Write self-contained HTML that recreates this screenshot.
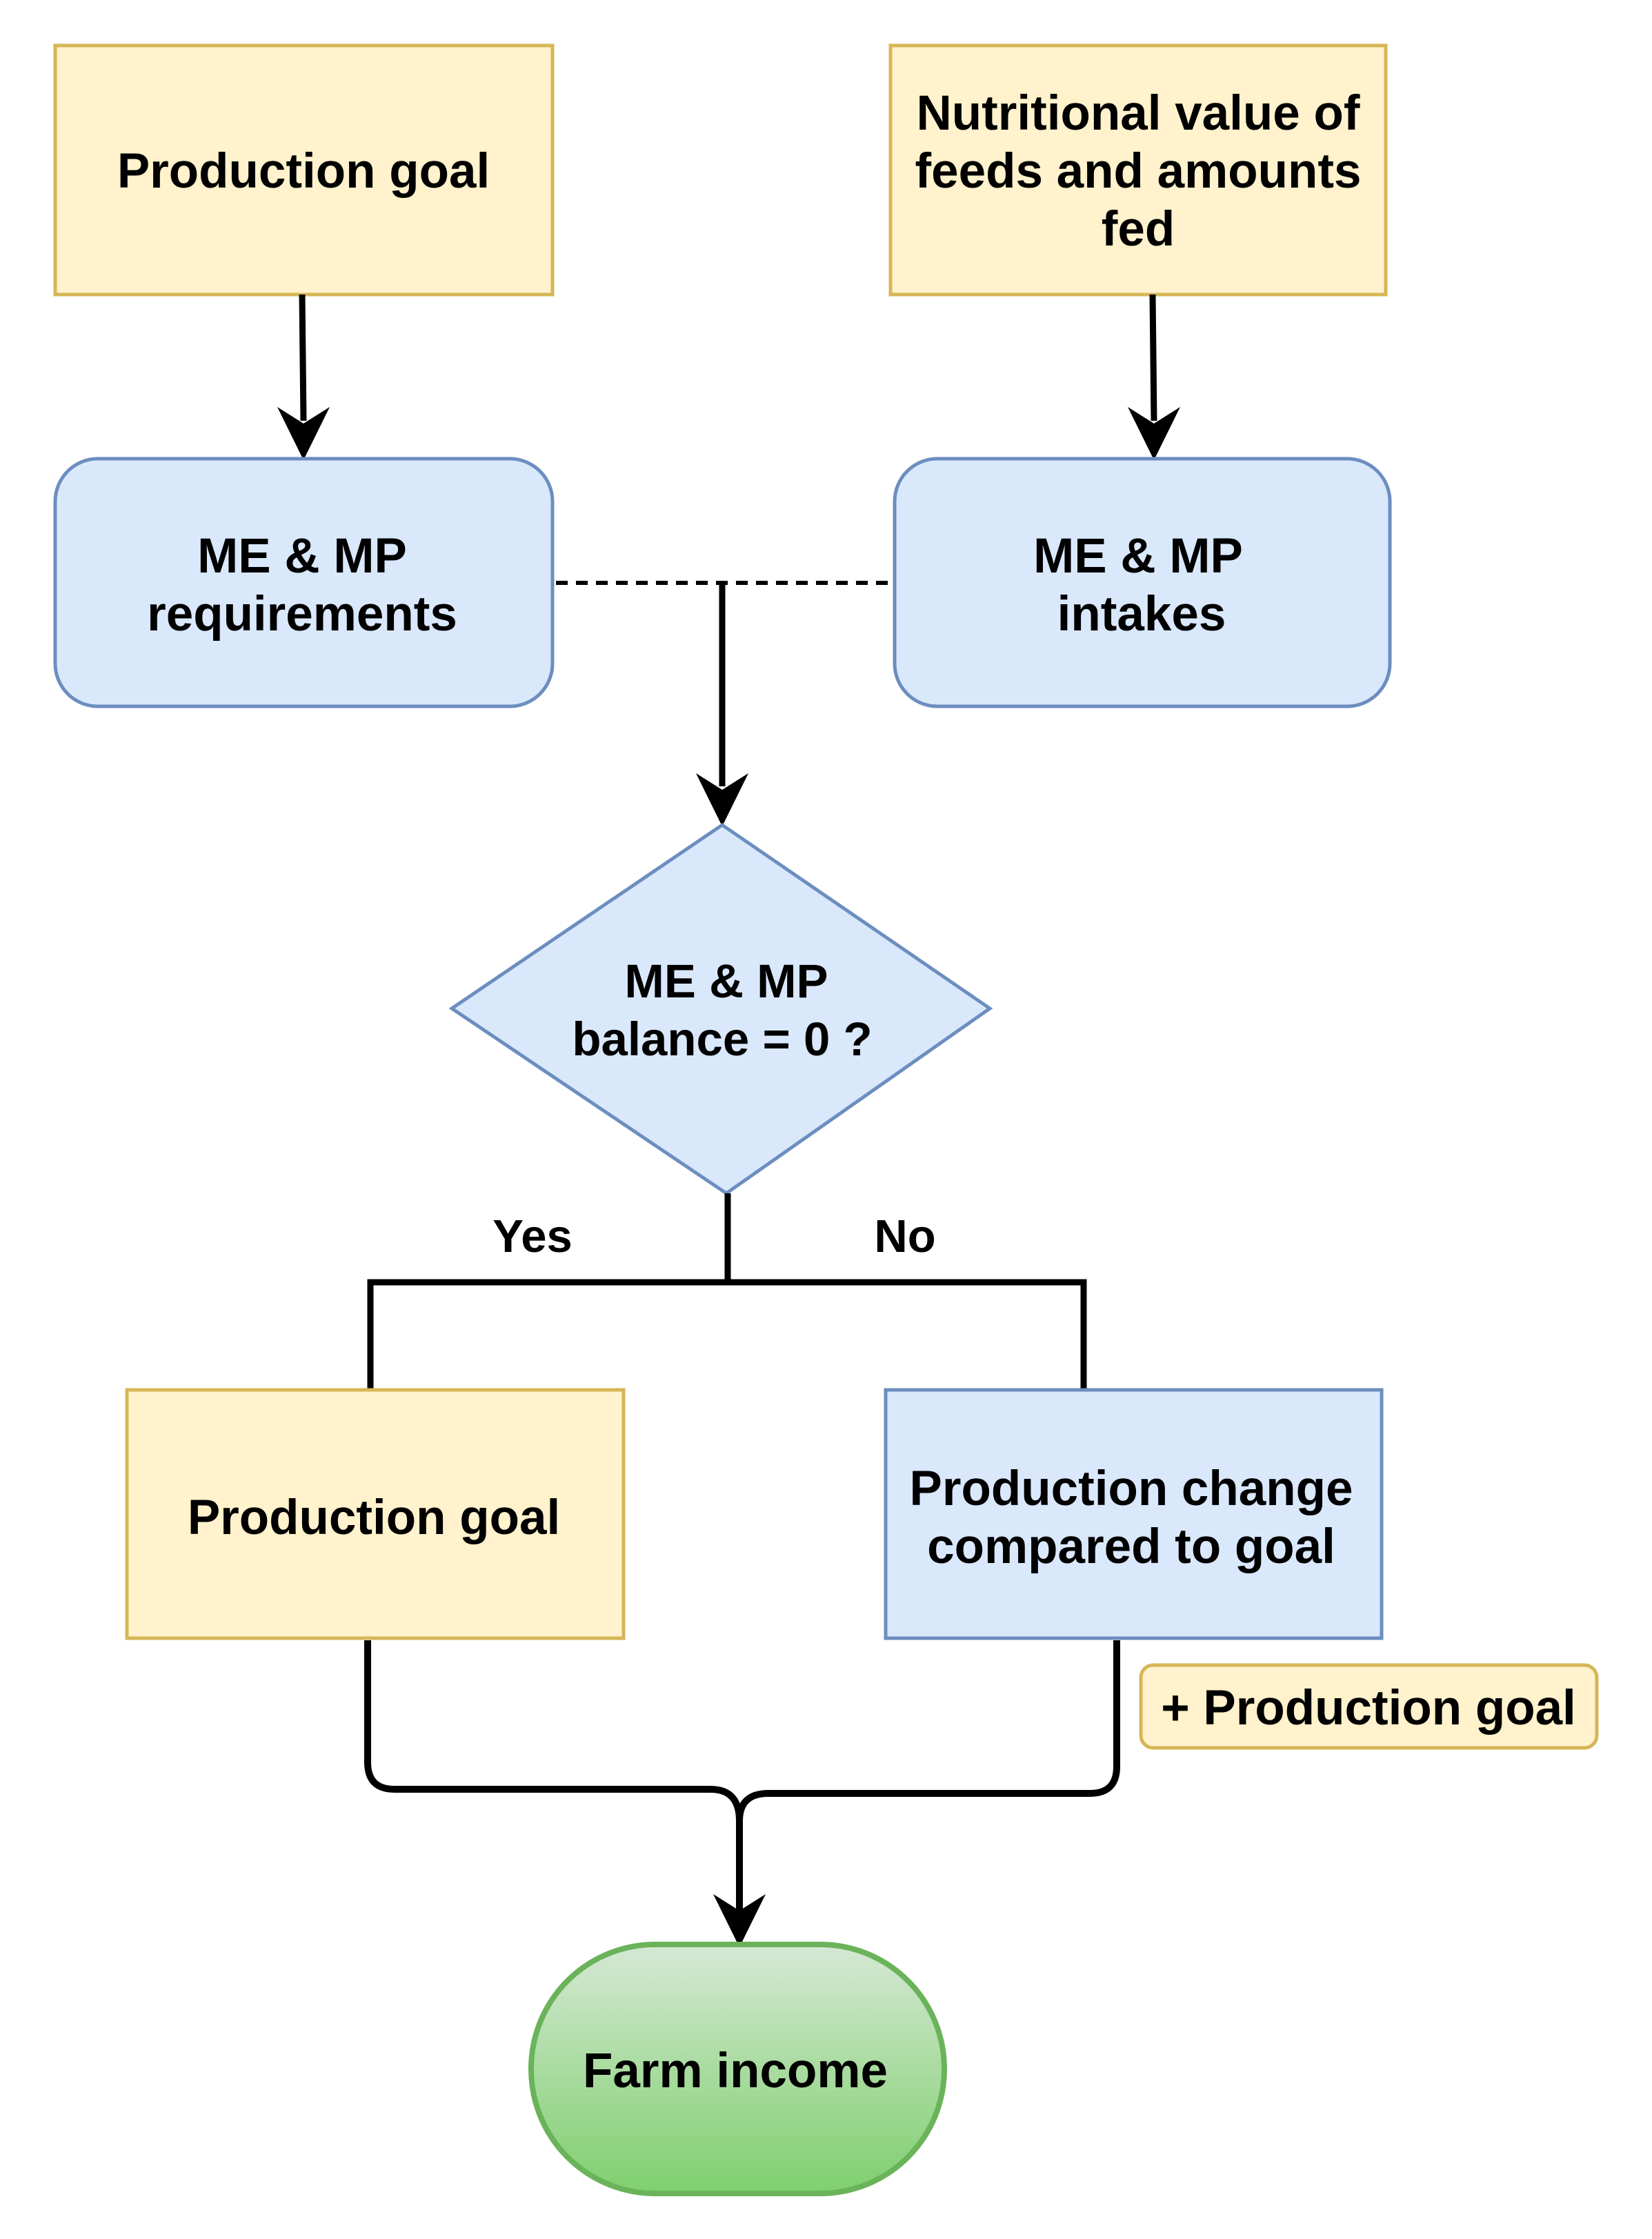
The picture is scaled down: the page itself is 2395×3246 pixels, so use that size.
<!DOCTYPE html>
<html><head><meta charset="utf-8"><style>
html,body{margin:0;padding:0;background:#fff;}
svg{display:block;}
text{font-family:"Liberation Sans",Arial,sans-serif;font-weight:bold;fill:#000;text-anchor:middle;}
</style></head><body>
<svg width="2395" height="3246" viewBox="0 0 2395 3246" xmlns="http://www.w3.org/2000/svg">
<defs>
<linearGradient id="g" x1="0" y1="0" x2="0" y2="1">
<stop offset="0" stop-color="#d5e8d4"/><stop offset="1" stop-color="#7fcf6e"/>
</linearGradient>
</defs>
<rect x="80" y="66" width="721" height="361" fill="#fff2cc" stroke="#d6b656" stroke-width="5"/>
<text x="440" y="272" font-size="71">Production goal</text>
<rect x="1291" y="66" width="718" height="361" fill="#fff2cc" stroke="#d6b656" stroke-width="5"/>
<text x="1650" y="188" font-size="71">Nutritional value of</text>
<text x="1650" y="272" font-size="71">feeds and amounts</text>
<text x="1650" y="356" font-size="71">fed</text>
<line x1="438" y1="427" x2="440" y2="610" stroke="#000" stroke-width="9"/>
<path d="M440 667 L402 590 L440 614 L478 590 Z" fill="#000"/>
<line x1="1671" y1="427" x2="1673" y2="610" stroke="#000" stroke-width="9"/>
<path d="M1673 667 L1635 590 L1673 614 L1711 590 Z" fill="#000"/>
<rect x="80" y="665" width="721" height="359" rx="62" fill="#dae8fc" stroke="#6c8ebf" stroke-width="5"/>
<text x="438" y="830" font-size="71">ME &amp; MP</text>
<text x="438" y="914" font-size="71">requirements</text>
<rect x="1297" y="665" width="718" height="359" rx="62" fill="#dae8fc" stroke="#6c8ebf" stroke-width="5"/>
<text x="1650" y="830" font-size="71">ME &amp; MP</text>
<text x="1655" y="914" font-size="71">intakes</text>
<line x1="806" y1="845" x2="1292" y2="845" stroke="#000" stroke-width="6" stroke-dasharray="17,12"/>
<line x1="1047" y1="845" x2="1047" y2="1140" stroke="#000" stroke-width="9"/>
<path d="M1047 1198 L1009 1121 L1047 1145 L1085 1121 Z" fill="#000"/>
<polygon points="1047,1196 1435,1462 1053,1730 655,1462" fill="#dae8fc" stroke="#6c8ebf" stroke-width="5"/>
<text x="1053" y="1446" font-size="69">ME &amp; MP</text>
<text x="1047" y="1530" font-size="69">balance = 0 ?</text>
<path d="M1055 1730 L1055 1859 M537 2013 L537 1859 L1571 1859 L1571 2013" fill="none" stroke="#000" stroke-width="9"/>
<text x="772" y="1815" font-size="67">Yes</text>
<text x="1312" y="1815" font-size="67">No</text>
<rect x="184" y="2015" width="720" height="360" fill="#fff2cc" stroke="#d6b656" stroke-width="5"/>
<text x="542" y="2224" font-size="71">Production goal</text>
<rect x="1284" y="2015" width="719" height="360" fill="#dae8fc" stroke="#6c8ebf" stroke-width="5"/>
<text x="1640" y="2182" font-size="71">Production change</text>
<text x="1640" y="2266" font-size="71">compared to goal</text>
<path d="M533 2378 L533 2555 Q533 2594 572 2594 L1030 2594 Q1072 2594 1072 2640 L1072 2770 M1072 2640 Q1072 2600 1114 2600 L1580 2600 Q1619 2600 1619 2561 L1619 2378" fill="none" stroke="#000" stroke-width="10"/>
<path d="M1072 2823 L1034 2746 L1072 2770 L1110 2746 Z" fill="#000"/>
<rect x="1654" y="2414" width="661" height="120" rx="18" fill="#fff2cc" stroke="#d6b656" stroke-width="5"/>
<text x="1984" y="2500" font-size="71">+ Production goal</text>
<rect x="770" y="2819" width="599" height="361" rx="180" fill="url(#g)" stroke="#6ab35a" stroke-width="8"/>
<text x="1066" y="3026" font-size="71">Farm income</text>
</svg>
</body></html>
